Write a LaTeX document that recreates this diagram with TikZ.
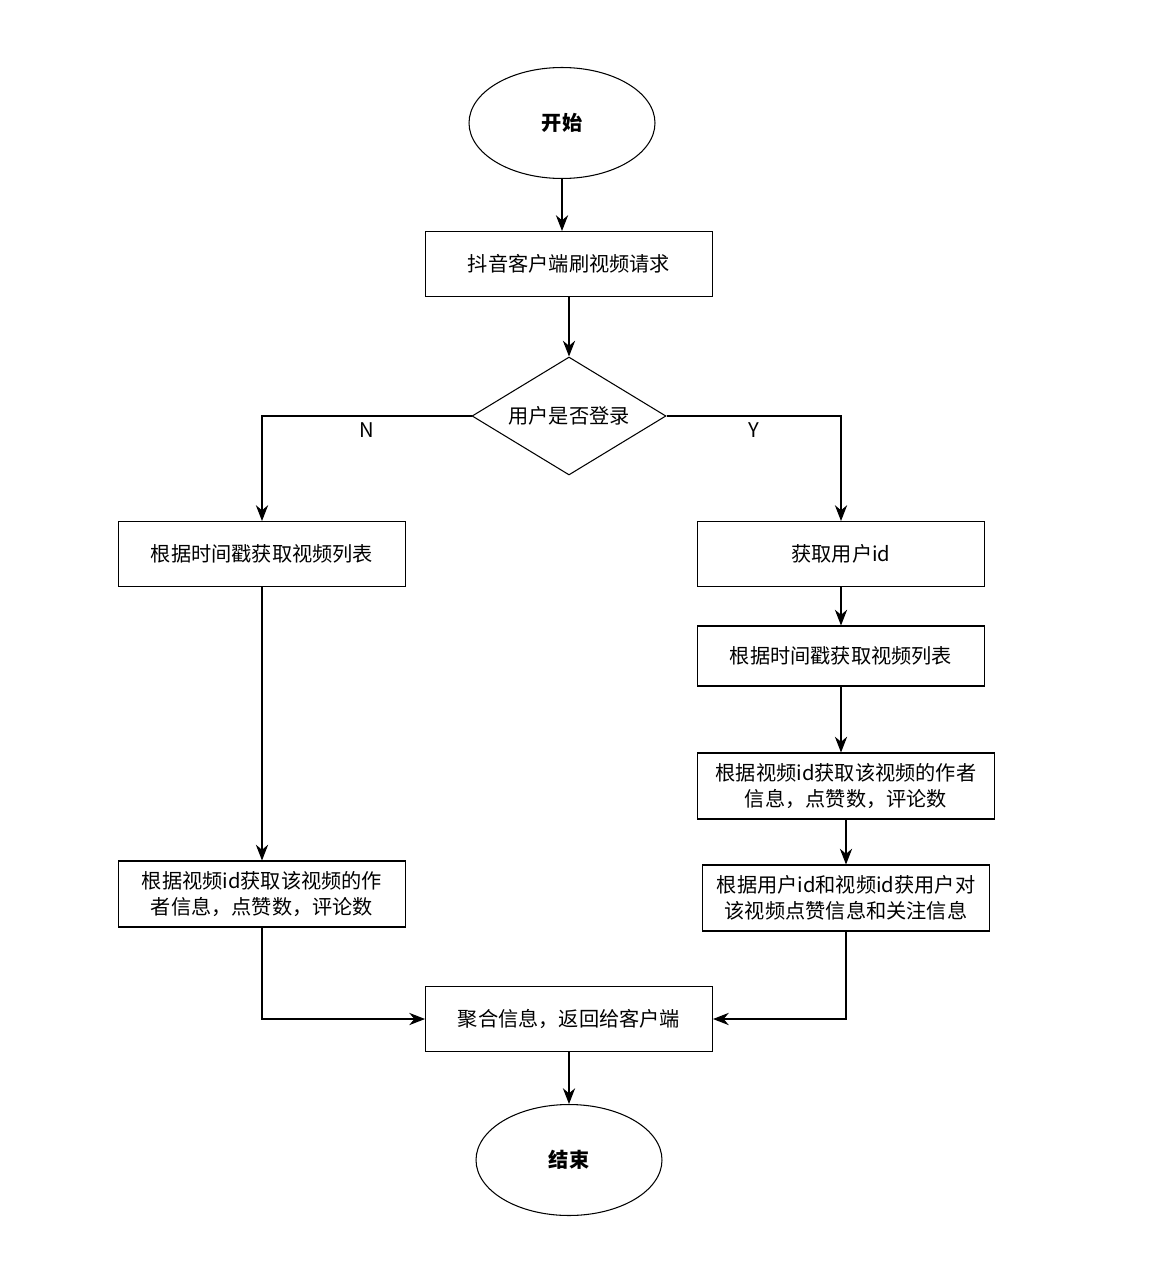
\documentclass[tikz,border=0pt]{standalone}
\usepackage{fontspec}
\setmainfont{Noto Sans CJK SC}
\usetikzlibrary{arrows.meta}
\usetikzlibrary{shapes.geometric}

\begin{document}
\begin{tikzpicture}[x=0.02cm,y=-0.02cm,
  >={Stealth[length=9pt,width=7pt]},semithick,
  font=\fontsize{11.5}{15}\selectfont,
  term/.style={draw,ellipse,minimum width=3.72cm,minimum height=2.22cm,font=\fontsize{11.5}{15}\selectfont\bfseries},
  proc/.style={draw,rectangle,minimum width=5.74cm,minimum height=1.3cm,align=center,inner sep=1pt},
  tall/.style={proc,minimum height=1.32cm},
  ask/.style={draw,diamond,aspect=1.64,minimum width=3.88cm,minimum height=2.36cm,inner sep=0pt}]
  \useasboundingbox (0,0) rectangle (1173,1280);

  \node [term] (start) at (562,123) {开始};
  \node [proc] (req) at (569,264) {抖音客户端刷视频请求};
  \node [ask] (login) at (569,416) {用户是否登录};
  \node [proc] (nlist) at (262,554) {根据时间戳获取视频列表};
  \node [proc] (uid) at (841,554) {获取用户id};
  \node [proc,minimum height=1.2cm] (ylist) at (841,656) {根据时间戳获取视频列表};
  \node [tall,minimum width=5.94cm] (yinfo) at (846,786) {根据视频id获取该视频的作者\\信息，点赞数，评论数};
  \node [tall] (ninfo) at (262,894) {根据视频id获取该视频的作\\者信息，点赞数，评论数};
  \node [tall] (like) at (846,898) {根据用户id和视频id获用户对\\该视频点赞信息和关注信息};
  \node [proc] (agg) at (569,1019) {聚合信息，返回给客户端};
  \node [term] (stop) at (569,1160) {结束};

  \draw [->] (start) -- (req.north -| start);
  \draw [->] (req) -- (login);
  \draw [->] (login.west) -- (nlist.north |- login.west) node [pos=0.5,below] {N} -- (nlist.north);
  \draw [->] (login.east) -- (uid.north |- login.east) node [pos=0.5,below] {Y} -- (uid.north);
  \draw [->] (uid) -- (ylist);
  \draw [->] (ylist.south) -- (ylist.south |- yinfo.north);
  \draw [->] (yinfo) -- (like);
  \draw [->] (nlist) -- (ninfo);
  \draw [->] (ninfo.south) |- (agg.west);
  \draw [->] (like.south) |- (agg.east);
  \draw [->] (agg) -- (stop);
\end{tikzpicture}
\end{document}
